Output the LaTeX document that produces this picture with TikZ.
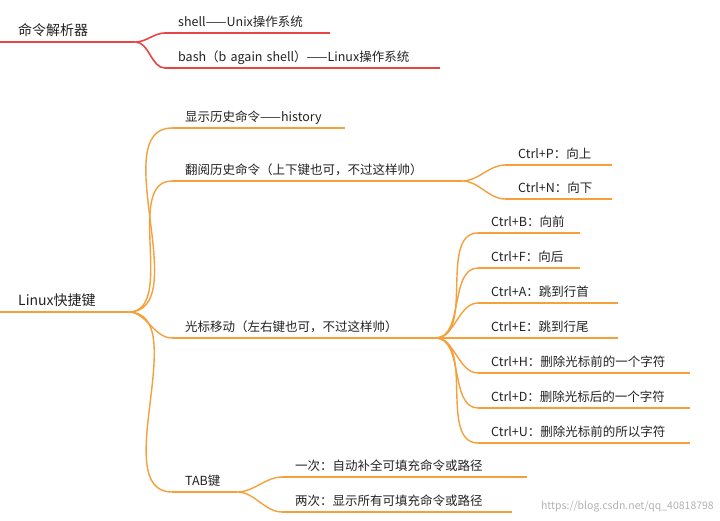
\documentclass[tikz,border=0pt]{standalone}
\usepackage{fontspec}
\setmainfont{Noto Sans CJK SC}
\definecolor{redl}{HTML}{E84545}
\definecolor{orl}{HTML}{F5A03A}
\definecolor{txt}{HTML}{222222}
\begin{document}
\begin{tikzpicture}[x=1pt,y=-1pt,
  lbl/.style={anchor=south west,inner xsep=0pt,inner ysep=6pt,text=txt,font=\fontsize{12.5}{14}\selectfont,align=left,text depth=0pt},
  redline/.style={draw=redl,line width=1.6pt},
  orline/.style={draw=orl,line width=1.4pt},
  con/.style={out=0,in=180,looseness=0.9}]
\useasboundingbox (0,0) rectangle (720,520);
\newcommand{\leaf}[7]{% name, x, y, width, text, style
  \node[lbl,text width=#4pt] (#1) at (#2,#3) {\hspace*{#7pt}#5};
  \draw[#6] (#1.south west) -- (#1.south east);}
% red group
\leaf{cmd}{0}{42}{135}{\fontsize{14}{16}\selectfont 命令解析器}{redline}{18}
\leaf{shell}{165}{33}{165}{shell——Unix操作系统}{redline}{13}
\leaf{bash}{165}{68}{275}{bash（b again shell）——Linux操作系统}{redline}{13}
\draw[redline] (cmd.south east) to[con] (shell.south west);
\draw[redline] (cmd.south east) to[con] (bash.south west);
% orange group
\leaf{linux}{0}{312}{128}{\fontsize{14}{16}\selectfont Linux快捷键}{orline}{18}
\leaf{hist}{172}{128}{173}{显示历史命令——history}{orline}{13}
\leaf{flip}{172}{181}{290}{翻阅历史命令（上下键也可，不过这样帅）}{orline}{13}
\leaf{move}{172}{338}{263}{光标移动（左右键也可，不过这样帅）}{orline}{13}
\leaf{tab}{172}{492}{65}{TAB键}{orline}{13}
\foreach \n in {hist,flip,move,tab} \draw[orline] (linux.south east) to[con] (\n.south west);
\leaf{cp}{505}{165}{107}{Ctrl+P：向上}{orline}{13}
\leaf{cn}{505}{199}{107}{Ctrl+N：向下}{orline}{13}
\foreach \n in {cp,cn} \draw[orline] (flip.south east) to[con] (\n.south west);
\leaf{cb}{478}{233}{102}{Ctrl+B：向前}{orline}{13}
\leaf{cf}{478}{268}{102}{Ctrl+F：向后}{orline}{13}
\leaf{ca}{478}{303}{140}{Ctrl+A：跳到行首}{orline}{13}
\leaf{ce}{478}{338}{140}{Ctrl+E：跳到行尾}{orline}{13}
\leaf{ch}{478}{373}{212}{Ctrl+H：删除光标前的一个字符}{orline}{13}
\leaf{cd}{478}{408}{212}{Ctrl+D：删除光标后的一个字符}{orline}{13}
\leaf{cu}{478}{443}{212}{Ctrl+U：删除光标前的所以字符}{orline}{13}
\foreach \n in {cb,cf,ca,ce,ch,cd,cu} \draw[orline] (move.south east) to[con] (\n.south west);
\leaf{once}{282}{477}{245}{一次：自动补全可填充命令或路径}{orline}{13}
\leaf{twice}{282}{512}{230}{两次：显示所有可填充命令或路径}{orline}{13}
\foreach \n in {once,twice} \draw[orline] (tab.south east) to[con] (\n.south west);
\node[anchor=east,text=gray!60,font=\fontsize{10.5}{12}\selectfont,inner sep=0pt] (wm) at (714,507) {https://blog.csdn.net/qq\_40818798};
\end{tikzpicture}
\end{document}
